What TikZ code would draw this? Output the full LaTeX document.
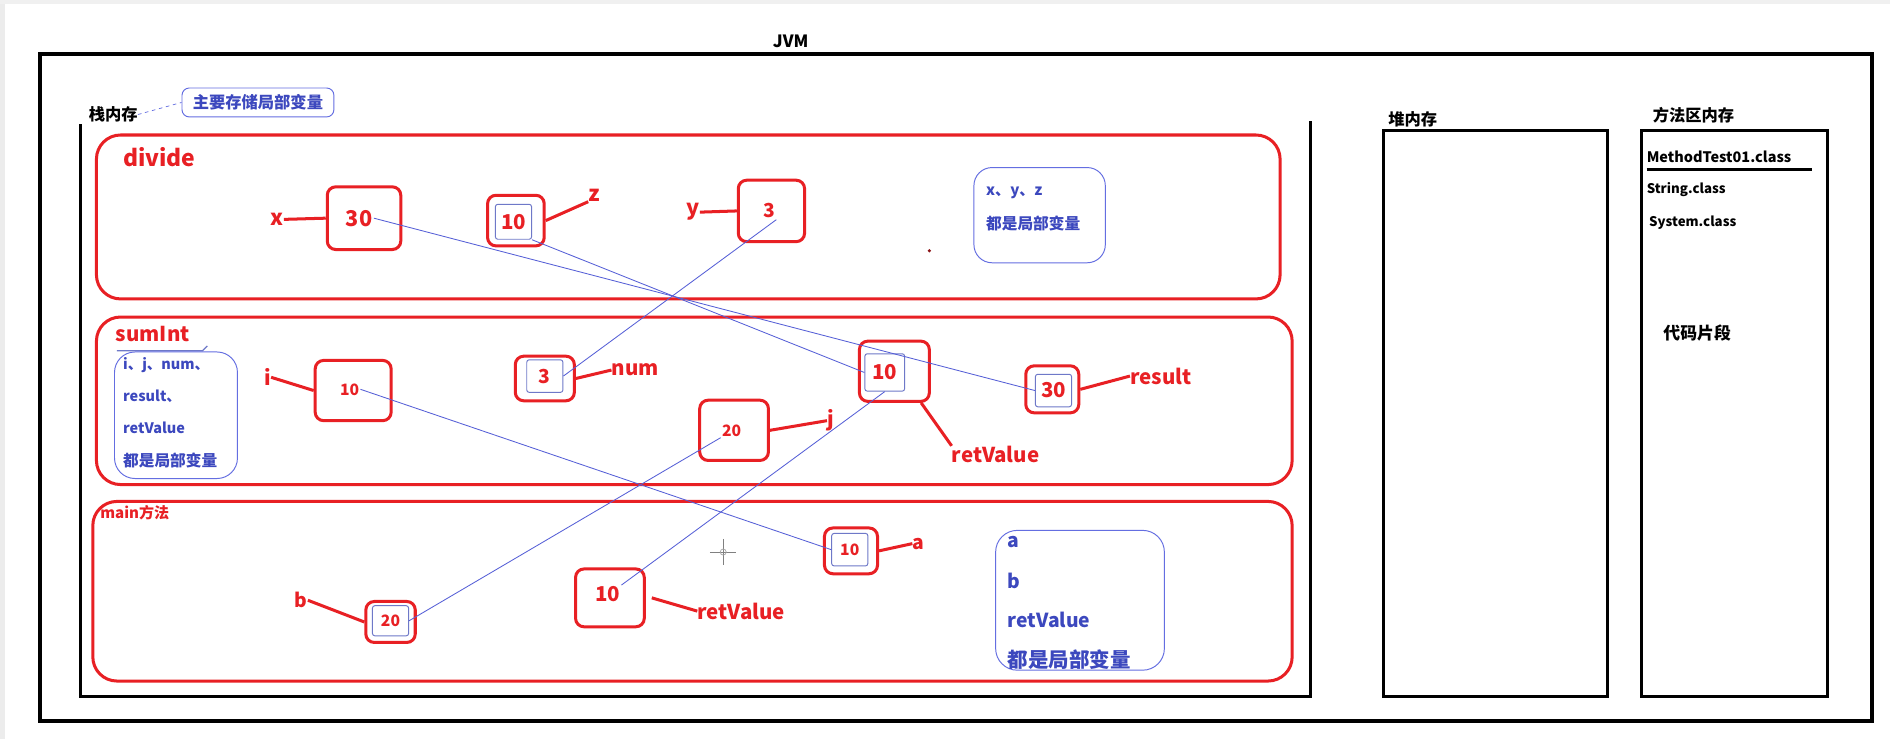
\documentclass[tikz,border=0pt]{standalone}
\usepackage{fontspec}
\setmainfont{Noto Sans CJK SC}
\newcommand\fsz[1]{\fontsize{#1}{#1}\selectfont}
\definecolor{pred}{RGB}{232,32,36}
\definecolor{tblue}{RGB}{60,72,190}
\definecolor{nblue}{RGB}{100,110,225}
\definecolor{lblue}{RGB}{85,95,215}
\definecolor{iblue}{RGB}{110,120,200}
\begin{document}
\begin{tikzpicture}[x=1pt,y=-1pt,font=\bfseries,
  frame/.style={draw=pred,line width=2.5pt,rounded corners=20pt},
  vbox/.style={draw=pred,line width=2.5pt,rounded corners=7pt,inner sep=0pt},
  vtxt/.style={text=pred,inner sep=1pt},
  ibox/.style={draw=iblue,line width=0.8pt,rounded corners=2pt,inner sep=1.5pt,text=pred,minimum width=30pt,minimum height=27pt},
  vlab/.style={text=pred,inner sep=0pt},
  lab/.style={draw=pred,line width=2.5pt},
  link/.style={draw=lblue,line width=0.7pt},
  note/.style={draw=nblue,line width=0.8pt,rounded corners=15pt},
  ntxt/.style={text=tblue,anchor=west,inner sep=0pt},
  blk/.style={draw=black,line width=2.5pt},
  btxt/.style={text=black,inner sep=0pt}]
\useasboundingbox (0,0) rectangle (1568,613);
\fill[white] (0,0) rectangle (1568,613);
\fill[gray!15] (0,0) rectangle (4,613);
\fill[gray!12] (0,0) rectangle (1568,3);
% outer JVM
\draw[blk,line width=3pt] (33,45) rectangle (1553,598);
\node[btxt,font=\bfseries\fsz{14}] (jvm) at (656,34) {JVM};
% stack
\node[btxt,font=\bfseries\fsz{13.5}] (stack) at (94,95) {栈内存};
\node[draw=nblue,line width=0.8pt,rounded corners=6pt,text=tblue,font=\bfseries\fsz{13.5},inner sep=2pt,minimum width=126pt,minimum height=24pt] (stnote) at (214,85) {主要存储局部变量};
\draw[nblue,dashed,line width=0.6pt] (stack.east) -- (stnote.west);
\draw[blk] (67,103) -- (67,578) -- (1087,578) -- (1087,100);
% heap
\node[btxt,font=\bfseries\fsz{13.5}] (heapl) at (1172,99) {堆内存};
\draw[blk] (1148,108) rectangle (1334,578);
% method area
\node[btxt,font=\bfseries\fsz{13.5}] (metl) at (1405,96) {方法区内存};
\draw[blk] (1362,108) rectangle (1516,578);
\node[btxt,font=\bfseries\fsz{12},anchor=west] (mt) at (1366,130) {MethodTest01.class};
\draw[blk] (1366,141) -- (1503,141);
\node[btxt,font=\bfseries\fsz{11},anchor=west] (strc) at (1366,157) {String.class};
\node[btxt,font=\bfseries\fsz{11},anchor=west] (sysc) at (1368,185) {System.class};
\node[btxt,font=\bfseries\fsz{14}] (code) at (1408,276) {代码片段};
% ===== divide =====
\draw[frame] (80,112) rectangle (1062,248);
\node[vlab,font=\bfseries\fsz{19},anchor=west] (divl) at (102,130) {divide};
\node[vbox,minimum width=61pt,minimum height=52pt] (xb) at (302,181) {};
\node[vtxt,font=\bfseries\fsz{18}] (xt) at (298,181) {30};
\node[vlab,font=\bfseries\fsz{18}] (xl) at (230,182) {x};
\draw[lab] (xl.east) -- (xb.west);
\node[vbox,minimum width=47pt,minimum height=42pt] (zb) at (428,183) {};
\node[ibox,font=\bfseries\fsz{17},minimum height=29pt] (zt) at (426,184) {10};
\node[vlab,font=\bfseries\fsz{18}] (zl) at (493,162) {z};
\draw[lab] (zb.east) -- (zl.south west);
\node[vbox,minimum width=55pt,minimum height=51pt] (yb) at (640,175) {};
\node[vtxt,font=\bfseries\fsz{16}] (yt) at (638,175) {3};
\node[vlab,font=\bfseries\fsz{18}] (yl) at (575,176) {y};
\draw[lab] (yl.east) -- (yb.west);
\fill[pred!60!black] (771,208) circle (1.5pt);
\draw[note] (808,139) rectangle (917,218);
\node[ntxt,font=\bfseries\fsz{12.5}] (dn1) at (818,160) {x、y、z};
\node[ntxt,font=\bfseries\fsz{13}] (dn2) at (818,185) {都是局部变量};
% ===== sumInt =====
\draw[frame] (80,263) rectangle (1072,402);
\node[vlab,font=\bfseries\fsz{17},anchor=west] (suml) at (96,277) {sumInt};
\draw[iblue,line width=1pt] (97,291) -- (168,291) -- (172,287);
\draw[note,rounded corners=17pt] (95,292) rectangle (197,397);
\node[ntxt,font=\bfseries\fsz{12}] (sn1) at (102,303) {i、j、num、};
\node[ntxt,font=\bfseries\fsz{12}] (sn2) at (102,329) {result、};
\node[ntxt,font=\bfseries\fsz{12}] (sn3) at (102,355) {retValue};
\node[ntxt,font=\bfseries\fsz{13}] (sn4) at (102,382) {都是局部变量};
\node[vbox,minimum width=63pt,minimum height=50pt] (ib) at (293,324) {};
\node[vtxt,font=\bfseries\fsz{13}] (it) at (290,323) {10};
\node[vlab,font=\bfseries\fsz{17}] (il) at (222,313) {i};
\draw[lab] (il.east) -- (ib.west);
\node[vbox,minimum width=49pt,minimum height=37pt] (nb) at (452,314) {};
\node[ibox,font=\bfseries\fsz{16}] (nt) at (452,312) {3};
\node[vlab,font=\bfseries\fsz{17}] (nl) at (527,307) {num};
\draw[lab] (nb.east) -- (nl.west);
\node[vbox,minimum width=57pt,minimum height=50pt] (jb) at (609,357) {};
\node[vtxt,font=\bfseries\fsz{13}] (jt) at (607,357) {20};
\node[vlab,font=\bfseries\fsz{17}] (jl) at (689,349) {j};
\draw[lab] (jb.east) -- (jl.west);
\node[vbox,minimum width=58pt,minimum height=50pt] (rb) at (742,308) {};
\node[ibox,font=\bfseries\fsz{17},minimum width=33pt,minimum height=31pt] (rt) at (734,309) {10};
\node[vlab,font=\bfseries\fsz{17}] (rl) at (826,377) {retValue};
\draw[lab] (rb.south east) ++(-8,0) coordinate (rbs) (rbs) -- (rl.north west);
\node[vbox,minimum width=44pt,minimum height=39pt] (resb) at (873,323) {};
\node[ibox,font=\bfseries\fsz{17}] (rest) at (874,324) {30};
\node[vlab,font=\bfseries\fsz{17}] (resl) at (963,312) {result};
\draw[lab] (resb.east) -- (resl.west);
% ===== main =====
\draw[frame] (77,416) rectangle (1072,565);
\node[vlab,font=\bfseries\fsz{12.5},anchor=west] (mainl) at (83,425) {main方法};
\node[vbox,minimum width=44pt,minimum height=38pt] (ab) at (706,457) {};
\node[ibox,font=\bfseries\fsz{13}] (at) at (705,456) {10};
\node[vlab,font=\bfseries\fsz{16}] (al) at (762,451) {a};
\draw[lab] (ab.east) -- (al.west);
\node[vbox,minimum width=41pt,minimum height=34pt] (bb) at (324,516) {};
\node[ibox,font=\bfseries\fsz{13},minimum height=25pt] (bt) at (324,515) {20};
\node[vlab,font=\bfseries\fsz{16}] (bl) at (250,498) {b};
\draw[lab] (bl.east) -- (bb.west);
\node[vbox,minimum width=57pt,minimum height=48pt] (mrb) at (506,496) {};
\node[vtxt,font=\bfseries\fsz{17}] (mrt) at (504,493) {10};
\node[vlab,font=\bfseries\fsz{17}] (mrl) at (615,507) {retValue};
\draw[lab] ([xshift=5pt]mrb.east) -- (mrl.west);
\draw[note,rounded corners=18pt] (826,440) rectangle (966,556);
\node[ntxt,font=\bfseries\fsz{16}] (mn1) at (836,450) {a};
\node[ntxt,font=\bfseries\fsz{16}] (mn2) at (836,482) {b};
\node[ntxt,font=\bfseries\fsz{16}] (mn3) at (836,514) {retValue};
\node[ntxt,font=\bfseries\fsz{17}] (mn4) at (836,547) {都是局部变量};
% cursor
\draw[gray,line width=0.8pt] (600,447) -- (600,469) (589,458) -- (611,458);
\draw[gray!70,line width=0.6pt] (600,458) circle (2.5pt);
% ===== links =====
\draw[link] (xt.east) -- (rest.west);
\draw[link] (zt.south east) -- (rt.west);
\draw[link] (yt.south east) -- (nt.east);
\draw[link] (it.east) -- (at.west);
\draw[link] (jt.south west) -- (bt.east);
\draw[link] (rt.south) -- (mrt.north east);
\end{tikzpicture}
\end{document}
